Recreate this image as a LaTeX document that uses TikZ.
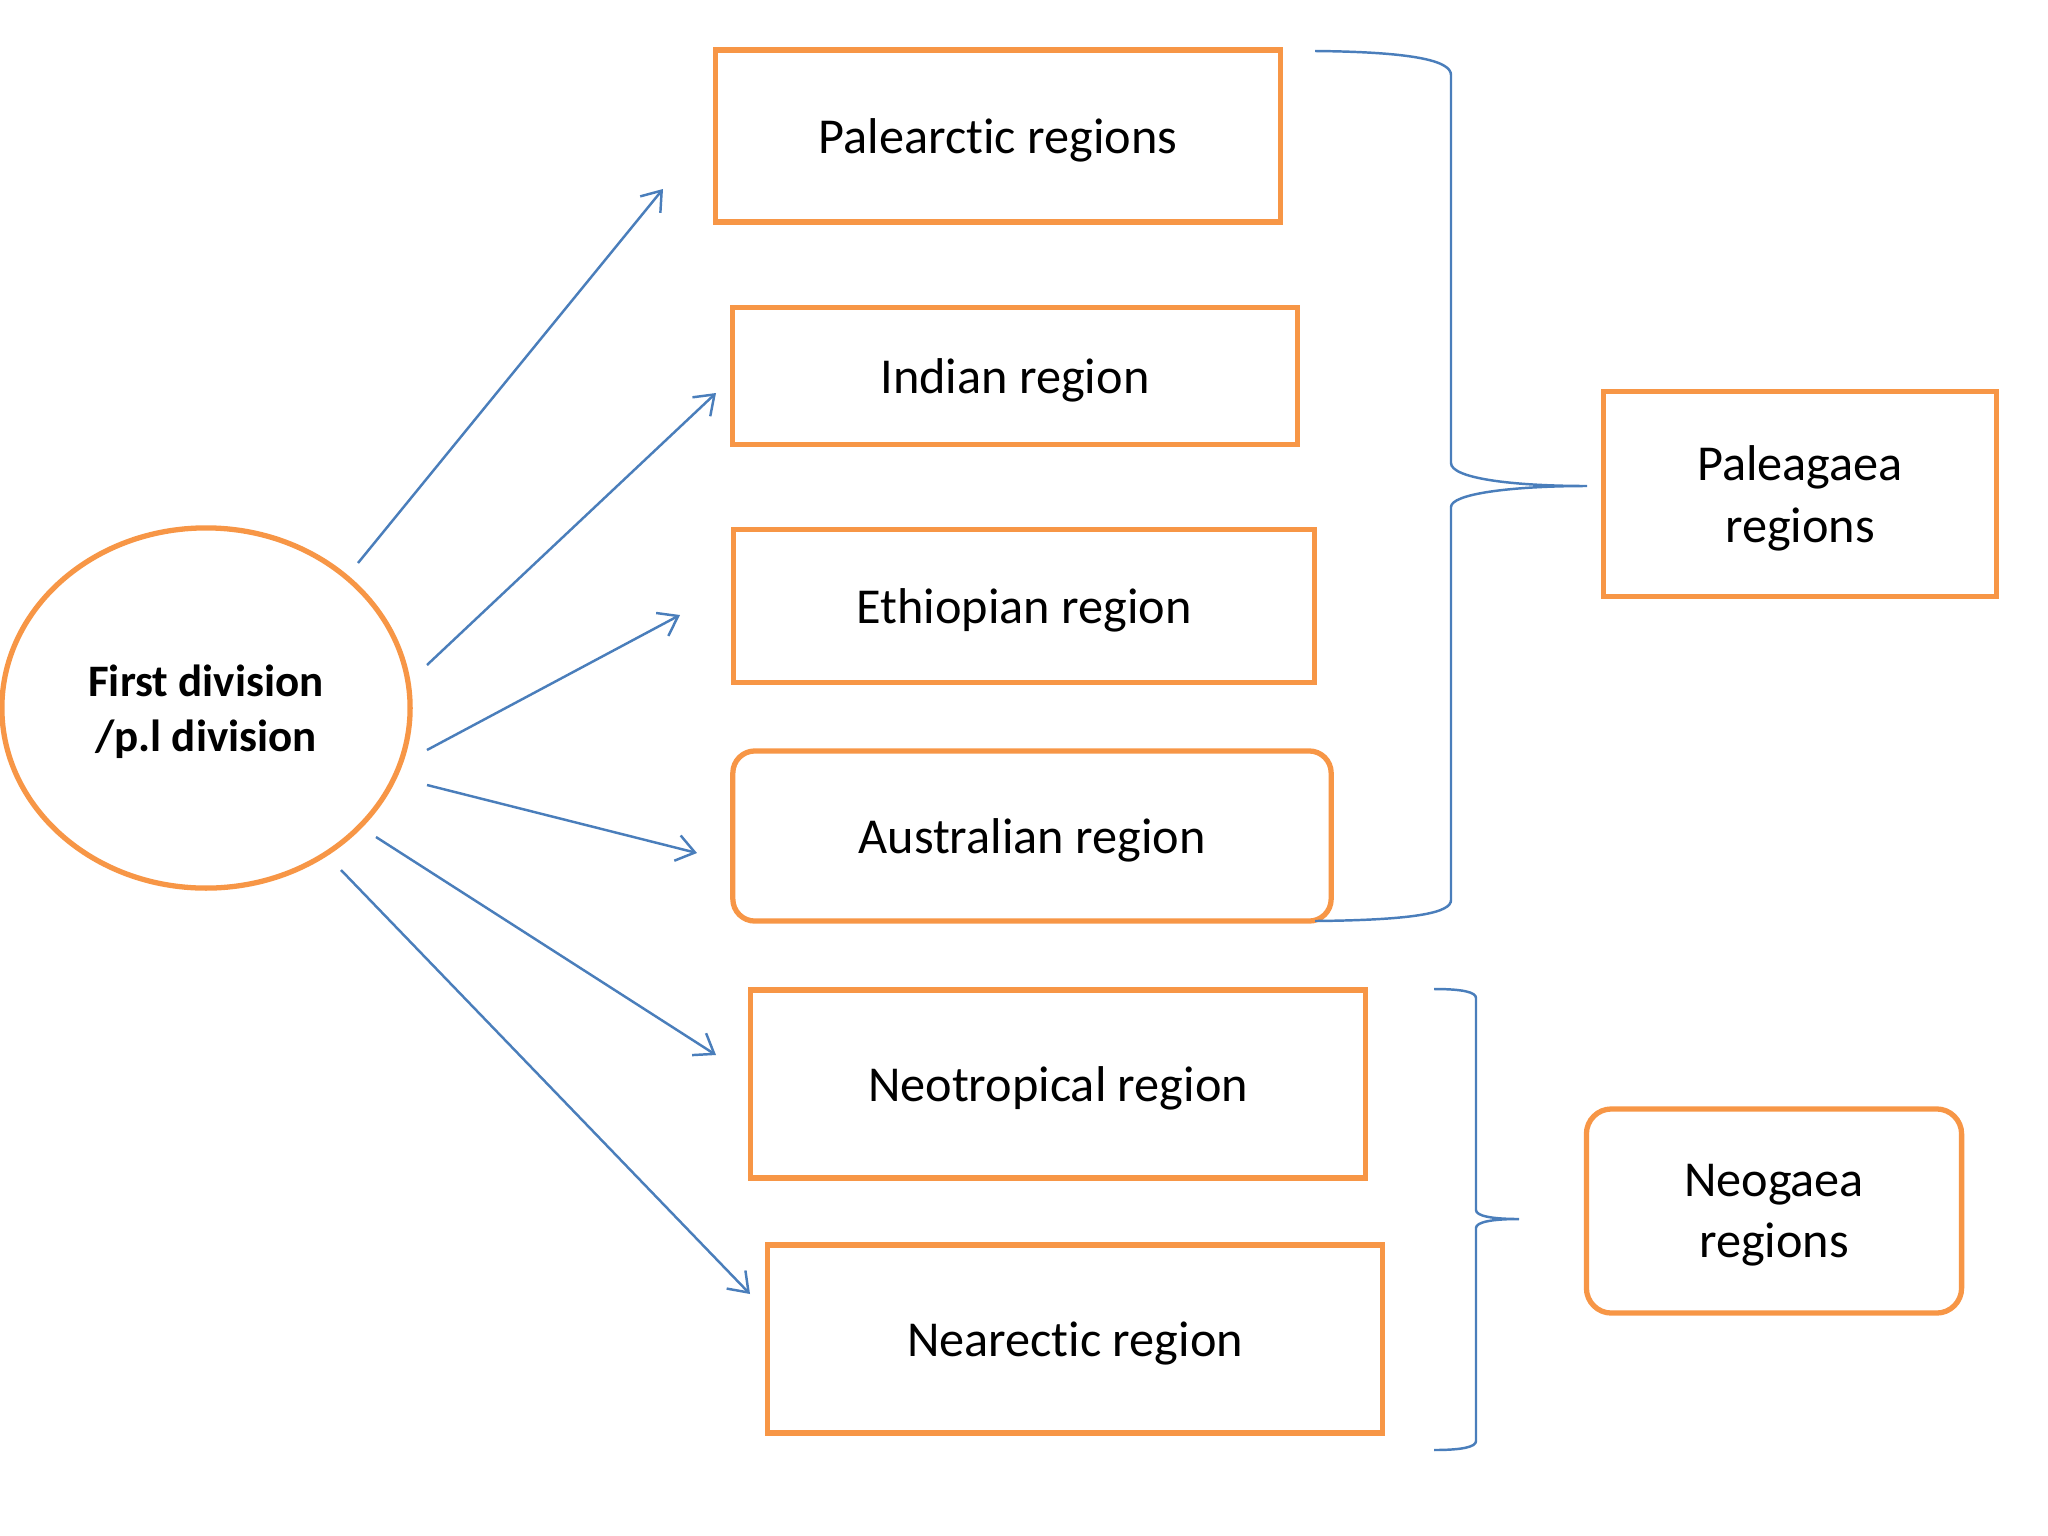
\documentclass[tikz,border=0pt]{standalone}
\usepackage{fontspec}
\setmainfont{Carlito}[Ligatures=NoCommon]
\usepackage{tikz}
\usetikzlibrary{arrows.meta, positioning, shapes.geometric}
\definecolor{boxorange}{HTML}{F79646}
\definecolor{linkblue}{HTML}{4A7EBB}

\begin{document}
\begin{tikzpicture}[
    x=0.01cm, y=-0.01cm,
    font=\fontsize{14.3}{17.4}\selectfont,
    >={Straight Barb[length=1.8mm,width=2.6mm]},
    every node/.style={align=center},
    regbox/.style={draw=boxorange, line width=1.5pt, fill=white, inner sep=0pt, text depth=0pt},
    link/.style={->, draw=linkblue, line width=0.7pt},
    brace/.style={draw=linkblue, line width=0.7pt},
]
\useasboundingbox (0,0) rectangle (2048,1536);

% ================= CENTRE: first division =================
\node[regbox, ellipse, minimum width=4.08cm, minimum height=3.6cm, font=\fontsize{12.8}{15.6}\selectfont\bfseries] (first) at (206,708) {First division\\/p.l division};

% ================= REGIONS =================
\node[regbox, minimum width=5.64cm, minimum height=1.72cm] (pal) at (998,136) {Palearctic regions};
\node[regbox, minimum width=5.64cm, minimum height=1.37cm] (ind) at (1015,376) {Indian region};
\node[regbox, minimum width=5.81cm, minimum height=1.53cm] (eth) at (1024,606) {Ethiopian region};
\node[regbox, rounded corners=0.22cm, minimum width=5.98cm, minimum height=1.70cm] (aus) at (1032,836) {Australian region};
\node[regbox, minimum width=6.14cm, minimum height=1.88cm] (neo) at (1058,1084) {Neotropical region};
\node[regbox, minimum width=6.14cm, minimum height=1.88cm] (nea) at (1075,1339) {Nearectic region};

% ================= GROUPS =================
\node[regbox, minimum width=3.93cm, minimum height=2.05cm] (paleo) at (1800,494) {Paleagaea\\regions};
\node[regbox, rounded corners=0.25cm, minimum width=3.75cm, minimum height=2.04cm] (neog) at (1774,1211) {Neogaea\\regions};

% ================= ARROWS =================
\coordinate (s1) at (358,563);  \coordinate (e1) at (663,189);
\coordinate (s2) at (427,665);  \coordinate (e2) at (716,393);
\coordinate (s3) at (427,750);  \coordinate (e3) at (680,615);
\coordinate (s4) at (427,785);  \coordinate (e4) at (697,853);
\coordinate (s5) at (376,837);  \coordinate (e5) at (716,1055);
\coordinate (s6) at (341,870);  \coordinate (e6) at (750,1294);
\foreach \i in {1,...,6} {
    \draw[link] (s\i) -- (e\i);
}

% ================= BRACES =================
\draw[brace] (1315,51) .. controls (1420,52) and (1451,62) .. (1451,75) -- (1451,463)
    .. controls (1451,478) and (1510,486) .. (1587,486)
    .. controls (1510,486) and (1451,494) .. (1451,507) -- (1451,900)
    .. controls (1451,912) and (1420,920) .. (1315,921);
\draw[brace] (1434,989) .. controls (1462,989) and (1476,992) .. (1476,998) -- (1476,1210)
    .. controls (1476,1216) and (1492,1219) .. (1519,1219)
    .. controls (1492,1219) and (1476,1222) .. (1476,1228) -- (1476,1441)
    .. controls (1476,1447) and (1462,1450) .. (1434,1450);

\end{tikzpicture}
\end{document}
